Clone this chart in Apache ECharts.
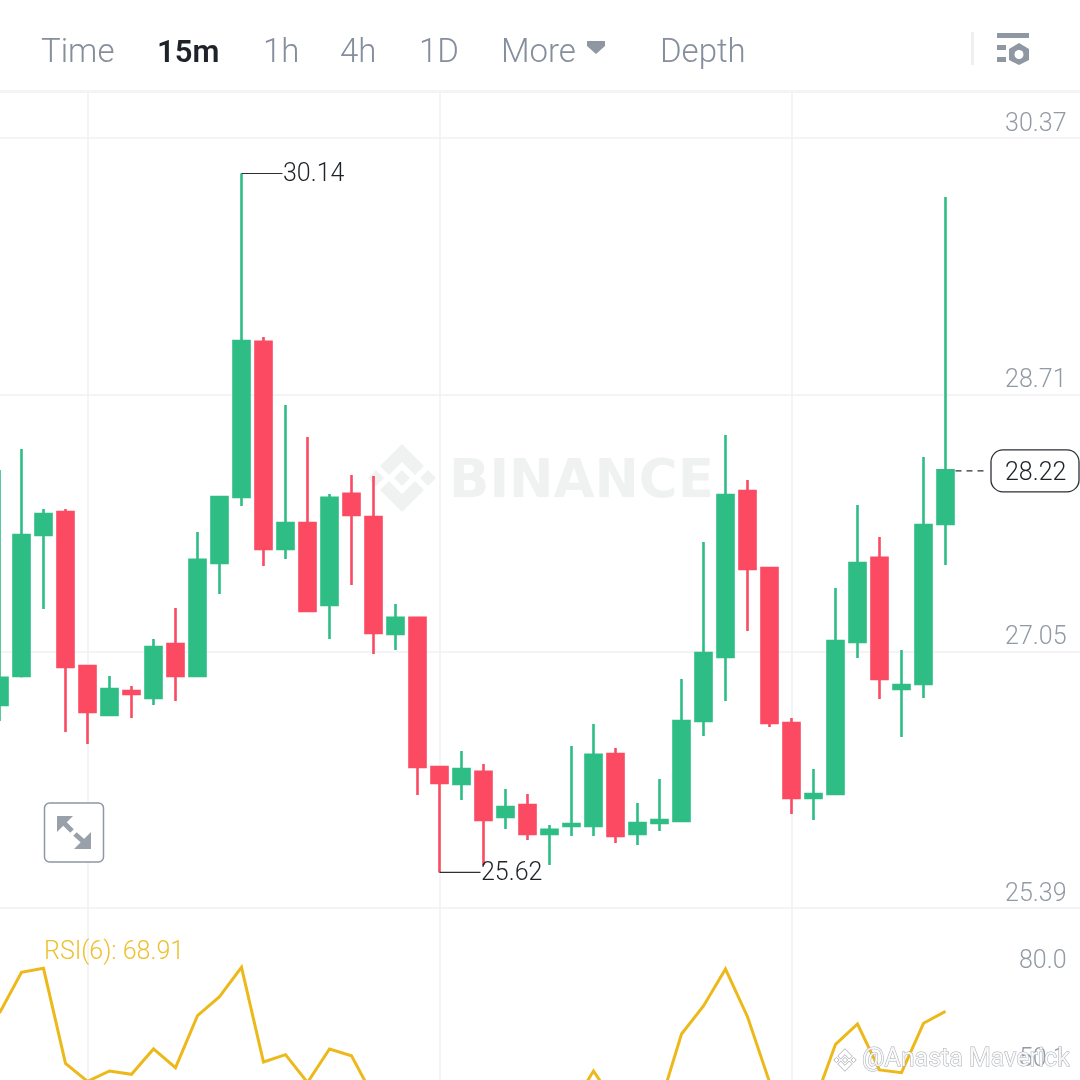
<!DOCTYPE html>
<html>
<head>
<meta charset="utf-8">
<style>html,body{margin:0;padding:0;background:#fff}#c{width:1080px;height:1080px}</style>
<script src="https://cdn.jsdelivr.net/npm/echarts@6/dist/echarts.min.js"></script>
</head>
<body>
<div id="c"></div>
<script>
const opens  = [26.703,26.890,27.802,27.951,26.955,26.638,26.793,26.748,27.097,26.890,27.621,28.048,29.051,27.712,27.880,27.350,28.068,27.919,27.162,27.266,26.302,26.192,26.270,25.979,26.056,25.869,25.920,25.920,26.386,25.869,25.940,25.953,26.599,27.013,28.087,27.589,26.586,26.101,26.127,27.110,27.654,26.806,26.839,27.873];
const closes = [26.878,27.802,27.938,26.949,26.658,26.806,26.774,27.078,26.890,27.641,28.048,29.057,27.712,27.880,27.311,28.042,27.932,27.169,27.266,26.302,26.198,26.289,25.959,26.043,25.869,25.895,25.933,26.380,25.856,25.940,25.959,26.599,27.039,28.061,27.582,26.586,26.101,26.127,27.117,27.621,26.871,26.832,27.867,28.22];
const lows   = [26.599,26.881,27.324,26.528,26.451,26.638,26.619,26.703,26.729,26.890,27.421,27.990,27.602,27.647,27.311,27.130,27.479,27.033,27.059,26.121,25.62,26.089,25.668,25.901,25.830,25.668,25.856,25.856,25.810,25.797,25.888,25.953,26.502,26.729,27.181,26.561,25.998,25.959,26.127,27.007,26.742,26.496,26.748,27.608];
const highs  = [28.223,28.359,27.971,27.971,26.955,26.890,26.826,27.130,27.330,27.822,28.048,30.14,29.083,28.643,28.436,28.068,28.190,28.184,27.356,27.272,26.302,26.405,26.321,26.160,26.127,25.927,26.438,26.580,26.425,26.069,26.224,26.871,27.757,28.449,28.158,27.589,26.619,26.289,27.460,27.996,27.789,27.059,28.307,29.988];
const rsi6   = [68.41,80.82,82.04,53.06,47.54,50.71,49.71,57.43,51.72,67.58,73.38,82.35,53.46,55.69,47.21,57.43,55.38,42.78,38.82,29.66,31.19,32.72,31.19,34.24,32.72,37.29,39.73,50.71,40.65,38.21,40.04,62.00,70.54,81.83,67.28,47.36,37.29,40.34,58.86,65.05,51.02,50.20,65.27,68.91];
const priceMin = 25.39, priceStep = 1.66, priceTop = 30.667;
const rsiMin = 20.2, rsiStep = 29.9, rsiTop = 100.44;
const emptySlotsRight = 6;
const verticalEvery = 16, verticalFirst = 4;
const highMark = {index: 11, value: 30.14, text: '30.14'};
const lowMark  = {index: 20, value: 25.62, text: '25.62'};
const lastMark = {index: 43, value: 28.22, text: '28.22'};
const tabs = [['Time',41,false],['15m',157,true],['1h',263,false],['4h',340,false],['1D',419,false],['More',501,false],['Depth',660,false]];
const rsiTitle = 'RSI(6): 68.91';
const creditText = '@Anasta Maverick';
const brandText = 'BINANCE';

const GREEN='#2EBD85', RED='#FB4A62', GRID='#F0F1F3', GRAY='#929AA5', TAB='#848E9C', DARK='#1E2329', YEL='#EDB91A', FF='Roboto';
const slots = Array.from({length: opens.length + emptySlotsRight}, (_, i) => String(i));
const candleData = opens.map((o, i) => [o, closes[i], lows[i], highs[i]]);
const vertical = i => i >= verticalFirst && (i - verticalFirst) % verticalEvery === 0;
const xCommon = {type:'category', data:slots, boundaryGap:true,
  axisLine:{show:false}, axisTick:{show:false}, axisLabel:{show:false},
  splitLine:{show:true, alignWithLabel:true, interval:i=>vertical(i), lineStyle:{color:GRID,width:1.5}}};
const yLabel = {inside:true, margin:22, color:GRAY, fontSize:25, fontFamily:FF, fontWeight:300,
  verticalAlign:'bottom', padding:[0,0,1,0], showMaxLabel:false};

const chart = echarts.init(document.getElementById('c'), null, {renderer:'canvas'});
chart.setOption({
  animation:false,
  backgroundColor:'#fff',
  grid:[
    {left:-11.5, width:1100, top:92, height:816, outerBoundsMode:'none', containLabel:false},
    {left:-11.5, width:1100, top:908, height:263, outerBoundsMode:'none', containLabel:false}
  ],
  xAxis:[Object.assign({gridIndex:0}, xCommon), Object.assign({gridIndex:1}, xCommon)],
  yAxis:[
    {gridIndex:0, type:'value', position:'right', scale:true, min:priceMin, max:priceTop, interval:priceStep,
     axisLine:{show:false}, axisTick:{show:false}, axisLabel:Object.assign({formatter:v=>v.toFixed(2)}, yLabel),
     splitLine:{show:true, lineStyle:{color:GRID,width:1.5}}},
    {gridIndex:1, type:'value', position:'right', min:rsiMin, max:rsiTop, interval:rsiStep,
     axisLine:{show:false}, axisTick:{show:false}, axisLabel:Object.assign({formatter:v=>v.toFixed(1)}, yLabel),
     splitLine:{show:false}}
  ],
  series:[
    {type:'candlestick', xAxisIndex:0, yAxisIndex:0, data:candleData, barWidth:17, z:3,
     itemStyle:{color:GREEN, color0:RED, borderColor:GREEN, borderColor0:RED, borderWidth:2.6}},
    {type:'line', xAxisIndex:1, yAxisIndex:1, data:rsi6, showSymbol:false, z:3,
     lineStyle:{color:YEL, width:3, join:'miter'}, itemStyle:{color:YEL}}
  ]
});

const at = (m) => chart.convertToPixel({xAxisIndex:0, yAxisIndex:0}, [m.index, m.value]);
const pHigh = at(highMark), pLow = at(lowMark), pLast = at(lastMark);
const poly = (pts, style, z) => ({type:'polygon', shape:{points:pts}, style, z:z||1, silent:true});
const logo = (cx, cy, s, style, z) => {
  const P = a => a.map(([x,y]) => [cx + x*s, cy + y*s]);
  return [
    poly(P([[0,-34],[22,-12],[13,-3],[0,-16],[-13,-3],[-22,-12]]), style, z),
    poly(P([[0,34],[22,12],[13,3],[0,16],[-13,3],[-22,12]]), style, z),
    poly(P([[0,-8],[8,0],[0,8],[-8,0]]), style, z),
    poly(P([[-26,-8],[-18,0],[-26,8],[-34,0]]), style, z),
    poly(P([[26,-8],[34,0],[26,8],[18,0]]), style, z)
  ];
};
const txt = (x, y, text, o) => ({type:'text', x, y, silent:true, z:o.z||8,
  style:Object.assign({text, fontFamily:FF, fontSize:25, fill:DARK, verticalAlign:'middle'}, o.style||{})});
const lineG = (x1,y1,x2,y2,style,z) => ({type:'line', shape:{x1,y1,x2,y2}, style, z:z||8, silent:true});
const rectG = (x,y,w,h,style,r,z) => ({type:'rect', shape:{x,y,width:w,height:h,r:r||0}, style, z:z||8, silent:true});
const IC = '#8F97A3';

const header = tabs.map(([t,x,on]) => txt(x, 54, t, {style:{fontSize:on?31:33, fontWeight:on?600:300, fill:on?DARK:TAB}}));

chart.setOption({graphic:[
  ...logo(402, 478, 1, {fill:'#F0F1F1'}, 0),
  {type:'text', x:449, y:483, silent:true, z:0, style:{text:brandText, fontFamily:'DejaVu Sans', fontWeight:700, fontSize:53, fill:'#F0F1F1', verticalAlign:'middle'}},
  rectG(0,90,1080,3,{fill:'#F3F4F5'},0,2),
  ...header,
  poly([[587,41],[605,41],[605,46],[596,54],[587,46]], {fill:IC}, 8),
  rectG(971,32,3,33,{fill:'#EEEFF0'}),
  rectG(997,33,32,5,{fill:IC}),
  rectG(997,45,9,5,{fill:IC}),
  rectG(997,57,9,5,{fill:IC}),
  poly([[1019,43],[1029,49],[1029,60],[1019,65],[1009,60],[1009,49]], {fill:IC}, 8),
  {type:'circle', shape:{cx:1019,cy:54.5,r:4.5}, style:{fill:'#fff'}, z:9, silent:true},
  rectG(44.5,803,59,59,{fill:'#fff',stroke:IC,lineWidth:1.5},5,7),
  poly([[57,816],[73,816],[57,832]], {fill:'#98A0AA'}, 8),
  poly([[91,832],[91,849],[74,849]], {fill:'#98A0AA'}, 8),
  lineG(63,822,72,831,{stroke:'#98A0AA',lineWidth:5}),
  lineG(75,834,85,843,{stroke:'#98A0AA',lineWidth:5}),
  lineG(pHigh[0],pHigh[1],pHigh[0]+41,pHigh[1],{stroke:'#2B2F36',lineWidth:1.2}),
  txt(pHigh[0]+41.5, pHigh[1]+1, highMark.text, {style:{fontWeight:300}}),
  lineG(pLow[0],pLow[1],pLow[0]+41,pLow[1],{stroke:'#2B2F36',lineWidth:1.2}),
  txt(pLow[0]+41.5, pLow[1]+1, lowMark.text, {style:{fontWeight:300}}),
  lineG(pLast[0]+10,pLast[1]+0.5,pLast[0]+38,pLast[1]+0.5,{stroke:'#2B2F36',lineWidth:1.2,lineDash:[6,5]}),
  rectG(991,pLast[1]-20.5,88,42,{fill:'#fff',stroke:'#2B2F36',lineWidth:1.3},12),
  txt(1005, pLast[1]+3, lastMark.text, {style:{fontWeight:300}, z:9}),
  txt(44, 953, rsiTitle, {style:{fill:'#EDC12E',fontWeight:300}}),
  ...logo(845, 1060, 0.33, {fill:'#fff',stroke:'#B5B8BC',lineWidth:1}, 9),
  {type:'text', x:862, y:1060, silent:true, z:10, style:{text:creditText, fontFamily:FF, fontSize:25, fontWeight:400, fill:'rgba(255,255,255,0.85)', stroke:'#A9ADB3', lineWidth:1, verticalAlign:'middle'}}
]});
</script>
</body>
</html>
